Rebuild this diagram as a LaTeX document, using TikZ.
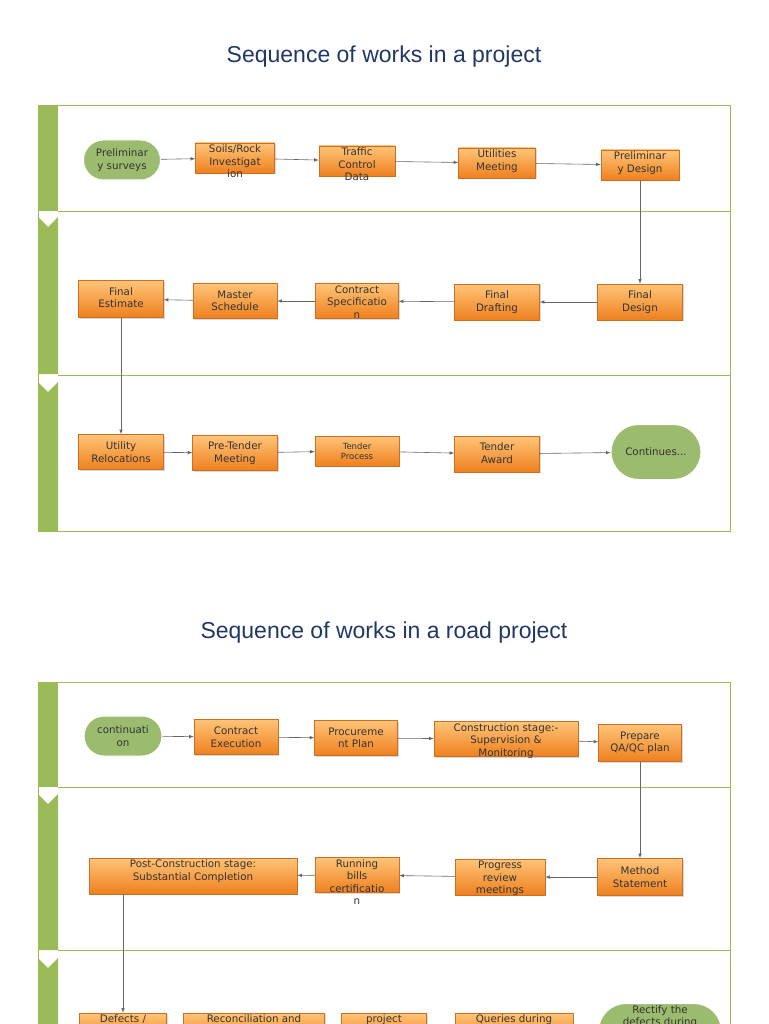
\documentclass[tikz,border=0pt]{standalone}
\usepackage{fontspec}
\setmainfont{Liberation Sans}
\newfontfamily\boxfont{DejaVu Sans}
\usetikzlibrary{shapes,arrows,positioning,shadows}
\definecolor{lanegreen}{RGB}{155,187,89}
\definecolor{titleblue}{RGB}{31,56,100}
\definecolor{boxtop}{RGB}{255,196,120}
\definecolor{boxbot}{RGB}{238,128,30}
\definecolor{boxline}{RGB}{205,110,35}
\definecolor{ovalfill}{RGB}{155,187,110}
\tikzset{basic/.style={font=\boxfont\fontsize{10.3}{12.5}\selectfont,text=black!80,align=center,inner sep=1pt}}
\tikzset{task/.style={basic,rectangle,draw=boxline,top color=boxtop,bottom color=boxbot,drop shadow={opacity=0.3,shadow xshift=1pt,shadow yshift=-1pt}}}
\tikzset{oval/.style={basic,rounded rectangle,fill=ovalfill,draw=white,line width=1pt}}
\tikzset{spill/.style={label={[basic,anchor=north,inner sep=0pt,yshift=-2pt]north:{#1}}}}
\tikzset{flow/.style={draw=black!60,line width=0.6pt,-latex}}
\tikzset{title/.style={text=titleblue,font=\fontsize{23}{27}\selectfont}}
\newcommand{\stripseg}[3]{% strip segment, #3=1 gives the notch
  \ifnum#3=1
    \fill[lanegreen] (38,#1) -- (48,#1+10) -- (58,#1) -- (58,#2) -- (38,#2) -- cycle;
  \else
    \fill[lanegreen] (38,#1) rectangle (58,#2);
  \fi}
\begin{document}
\begin{tikzpicture}[x=1pt,y=-1pt]
  \useasboundingbox (0,0) rectangle (768,1024);
  \clip (0,0) rectangle (768,1024);

  % first swimlane block
  \node[title] (t1) at (384,57) {Sequence of works in a project};
  \draw[lanegreen,line width=0.6pt] (38,105) rectangle (730,531);
  \draw[lanegreen,line width=0.6pt] (58,211) -- (730,211) (58,375) -- (730,375);
  \stripseg{105}{211}{0}
  \stripseg{217}{374}{1}
  \stripseg{382}{531}{1}

  \node[oval,minimum width=79pt,minimum height=40pt] (p1) at (122,160) {Preliminar\\y surveys};
  \node[task,minimum width=79pt,minimum height=30pt,spill={Soils/Rock\\Investigat\\ion}] (p2) at (235,158) {};
  \node[task,minimum width=76pt,minimum height=30pt,spill={Traffic\\Control\\Data}] (p3) at (357,161) {};
  \node[task,minimum width=77pt,minimum height=30pt,spill={Utilities\\Meeting}] (p4) at (497,163) {};
  \node[task,minimum width=78pt,minimum height=30pt,spill={Preliminar\\y Design}] (p5) at (640,165) {};

  \node[task,minimum width=85pt,minimum height=36pt,spill={\\Final\\Design}] (p6) at (640,302) {};
  \node[task,minimum width=85pt,minimum height=36pt,spill={\\Final\\Drafting}] (p7) at (497,302) {};
  \node[task,minimum width=83pt,minimum height=35pt,spill={Contract\\Specificatio\\n}] (p8) at (357,301) {};
  \node[task,minimum width=84pt,minimum height=35pt] (p9) at (235,301) {Master\\Schedule};
  \node[task,minimum width=85pt,minimum height=37pt,spill={\\Final\\Estimate}] (p10) at (121,299) {};

  \node[task,minimum width=85pt,minimum height=35pt] (p11) at (121,452) {Utility\\Relocations};
  \node[task,minimum width=85pt,minimum height=35pt] (p12) at (235,453) {Pre-Tender\\Meeting};
  \node[task,minimum width=84pt,minimum height=30pt,font=\boxfont\fontsize{8.5}{10}\selectfont] (p13) at (357,451) {Tender\\Process};
  \node[task,minimum width=85pt,minimum height=36pt,spill={\\Tender\\Award}] (p14) at (497,454) {};
  \node[oval,minimum width=92pt,minimum height=55pt] (p15) at (656,452) {Continues...};

  \path[flow] (p1) -- (p2);
  \path[flow] (p2) -- (p3);
  \path[flow] (p3) -- (p4);
  \path[flow] (p4) -- (p5);
  \path[flow] (p5) -- (p6);
  \path[flow] (p6) -- (p7);
  \path[flow] (p7) -- (p8);
  \path[flow] (p8) -- (p9);
  \path[flow] (p9) -- (p10);
  \path[flow] (p10) -- (p11);
  \path[flow] (p11) -- (p12);
  \path[flow] (p12) -- (p13);
  \path[flow] (p13) -- (p14);
  \path[flow] (p14) -- (p15);

  % second swimlane block
  \node[title] (t2) at (384,633) {Sequence of works in a road project};
  \draw[lanegreen,line width=0.6pt] (38,682) rectangle (730,1100);
  \draw[lanegreen,line width=0.6pt] (58,787) -- (730,787) (58,950) -- (730,950);
  \stripseg{682}{787}{0}
  \stripseg{794}{950}{1}
  \stripseg{958}{1100}{1}

  \node[oval,minimum width=80pt,minimum height=40pt] (r1) at (123,736) {continuati\\on};
  \node[task,minimum width=84pt,minimum height=35pt] (r2) at (236,737) {Contract\\Execution};
  \node[task,minimum width=83pt,minimum height=35pt] (r3) at (356,738) {Procureme\\nt Plan};
  \node[task,minimum width=144pt,minimum height=35pt,spill={Construction stage:-\\Supervision \&\\Monitoring}] (r4) at (506,739) {};
  \node[task,minimum width=83pt,minimum height=37pt] (r5) at (640,743) {Prepare\\QA/QC plan};

  \node[task,minimum width=85pt,minimum height=37pt] (r6) at (640,877) {Method\\Statement};
  \node[task,minimum width=90pt,minimum height=36pt,spill={Progress\\review\\meetings}] (r7) at (500,877) {};
  \node[task,minimum width=84pt,minimum height=35pt,spill={Running\\bills\\certificatio\\n}] (r8) at (357,875) {};
  \node[task,minimum width=208pt,minimum height=36pt,spill={Post-Construction stage:\\Substantial Completion}] (r9) at (193,876) {};

  \node[task,minimum width=87pt,minimum height=30pt,spill={Defects /}] (r10) at (123,1028) {};
  \node[task,minimum width=141pt,minimum height=30pt,spill={Reconciliation and}] (r11) at (254,1028) {};
  \node[task,minimum width=85pt,minimum height=30pt,spill={project}] (r12) at (384,1028) {};
  \node[task,minimum width=118pt,minimum height=30pt,spill={Queries during}] (r13) at (514,1028) {};
  \node[oval,minimum width=125pt,minimum height=55pt,anchor=north,spill={Rectify the\\defects during}] (r14) at (660,1003) {};

  \path[flow] (r1) -- (r2);
  \path[flow] (r2) -- (r3);
  \path[flow] (r3) -- (r4);
  \path[flow] (r4) -- (r5);
  \path[flow] (r5) -- (r6);
  \path[flow] (r6) -- (r7);
  \path[flow] (r7) -- (r8);
  \path[flow] (r8) -- (r9);
  \path[flow] (r9.south -| r10) -- (r10);
\end{tikzpicture}
\end{document}
